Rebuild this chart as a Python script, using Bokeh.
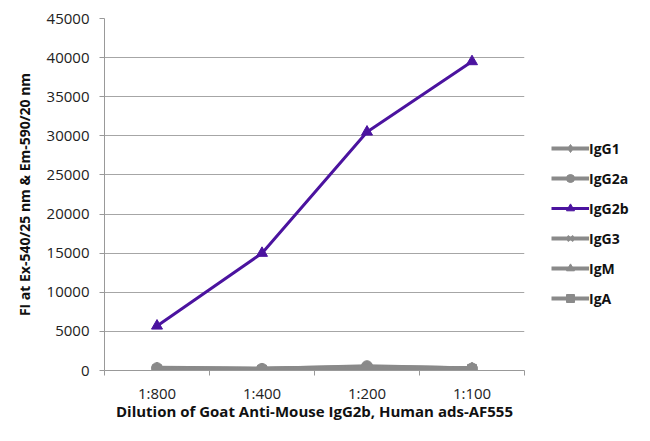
from bokeh.plotting import figure
from bokeh.models import FixedTicker, Legend, LegendItem, Range1d
from bokeh.embed import file_html
from bokeh.resources import INLINE

# Daten
dilutions = ["1:800", "1:400", "1:200", "1:100"]
igg1 = [350, 250, 450, 300]
igg2a = [300, 200, 550, 250]
igg2b = [5700, 15000, 30500, 39500]
igg3 = [250, 200, 400, 300]
igm = [200, 150, 350, 250]
iga = [150, 100, 300, 200]

gray = "#8a8a8a"
purple = "#4b139f"
font = "Open Sans"

xs = [i + 0.5 for i in range(len(dilutions))]

p = figure(frame_width=420, frame_height=352, output_backend="svg", toolbar_location=None,
           x_range=Range1d(0, len(dilutions)), y_range=Range1d(0, 45000))
p.min_border_left = 104
p.min_border_top = 18
p.min_border_bottom = 63
p.min_border_right = 0
p.outline_line_color = None
p.background_fill_color = "white"

# x-Achse: Beschriftung in der Mitte, Striche zwischen den Kategorien
p.xaxis.ticker = FixedTicker(ticks=xs, minor_ticks=list(range(len(dilutions) + 1)))
p.xaxis.major_label_overrides = {x: d for x, d in zip(xs, dilutions)}
p.xaxis.major_tick_line_color = None
p.xaxis.minor_tick_out = 5
p.xaxis.minor_tick_in = 0
p.xaxis.minor_tick_line_color = "#999999"
p.xaxis.axis_line_color = "#999999"
p.xaxis.major_label_text_font = font
p.xaxis.major_label_text_font_size = "15px"
p.xaxis.major_label_text_color = "#222222"
p.xaxis.major_label_standoff = 6
p.xaxis.axis_label = "Dilution of Goat Anti-Mouse IgG2b, Human ads-AF555"
p.xaxis.axis_label_text_font = font
p.xaxis.axis_label_text_font_style = "bold"
p.xaxis.axis_label_text_font_size = "15px"
p.xaxis.axis_label_text_color = "#111111"
p.xaxis.axis_label_standoff = -5
p.xgrid.grid_line_color = None

p.yaxis.ticker = FixedTicker(ticks=list(range(0, 45001, 5000)))
p.yaxis.minor_tick_line_color = None
p.yaxis.major_tick_out = 5
p.yaxis.major_tick_in = 0
p.yaxis.major_tick_line_color = "#999999"
p.yaxis.axis_line_color = "#999999"
p.yaxis.major_label_text_font = font
p.yaxis.major_label_text_font_size = "15px"
p.yaxis.major_label_text_color = "#222222"
p.yaxis.major_label_standoff = 10
p.yaxis.axis_label = "FI at Ex-540/25 nm & Em-590/20 nm"
p.yaxis.axis_label_text_font = font
p.yaxis.axis_label_text_font_style = "bold"
p.yaxis.axis_label_text_font_size = "14px"
p.yaxis.axis_label_text_color = "#111111"
p.yaxis.axis_label_standoff = 10
p.ygrid.grid_line_color = "#a6a6a6"
p.ygrid.grid_line_width = 1

items = []
series = [
    ("IgG1", igg1, gray, "diamond", 11),
    ("IgG2a", igg2a, gray, "circle", 11),
    ("IgG2b", igg2b, purple, "triangle", 11),
    ("IgG3", igg3, gray, "x", 10),
    ("IgM", igm, gray, "triangle", 11),
    ("IgA", iga, gray, "square", 9),
]
for name, vals, col, mk, sz in series:
    lw = 3 if col == purple else 4
    r1 = p.line(xs, vals, line_color=col, line_width=lw)
    r2 = p.scatter(xs, vals, marker=mk, size=sz, fill_color=col, line_color=col,
                   line_width=2 if mk == "x" else 1)
    items.append(LegendItem(label=name, renderers=[r1, r2]))

legend = Legend(items=items, location=(27, 62), orientation="vertical")
legend.label_text_font = font
legend.label_text_font_style = "bold"
legend.label_text_font_size = "14px"
legend.label_text_color = "#111111"
legend.glyph_width = 38
legend.glyph_height = 20
legend.spacing = 10
legend.label_standoff = 0
legend.border_line_color = None
legend.background_fill_alpha = 0
p.add_layout(legend, "right")

open("out.html", "w").write(file_html(p, INLINE))
